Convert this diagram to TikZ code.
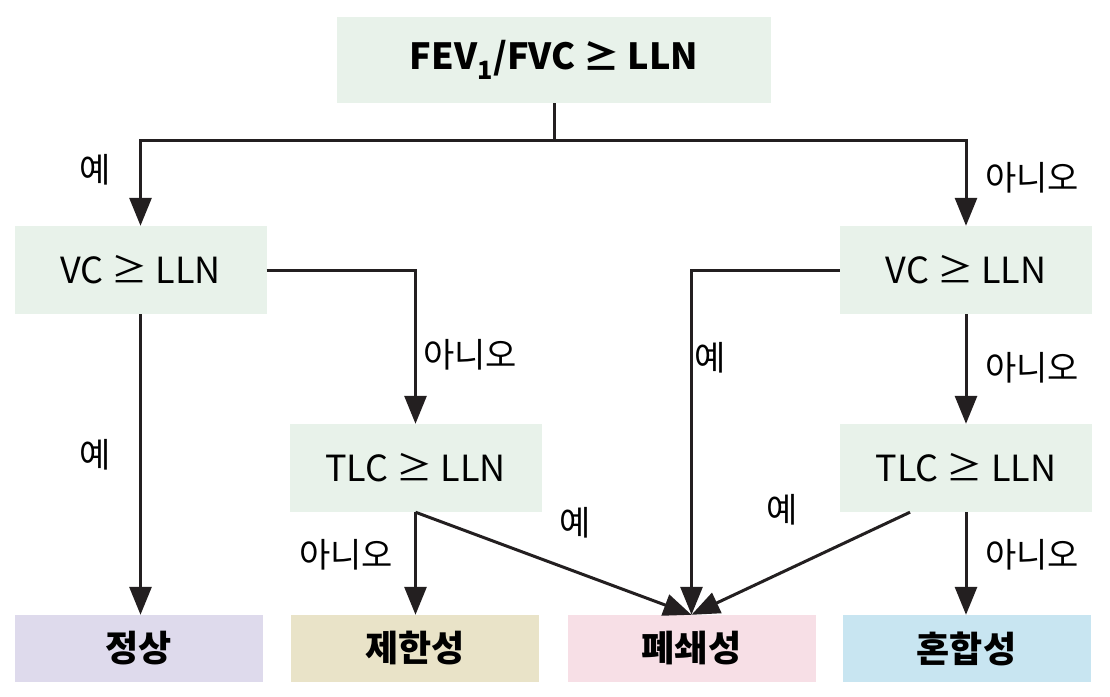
\documentclass[tikz,border=0pt]{standalone}
\usepackage{fontspec}
\setmainfont{Noto Sans CJK KR}
\usetikzlibrary{arrows.meta}
\definecolor{gbox}{HTML}{E8F2EA}
\definecolor{c1}{HTML}{DEDAEC}
\definecolor{c2}{HTML}{E9E3C8}
\definecolor{c3}{HTML}{F7DFE6}
\definecolor{c4}{HTML}{C8E5F1}
\definecolor{ln}{HTML}{231F20}
\begin{document}
\begin{tikzpicture}[x=1pt,y=-1pt,
  box/.style={fill=gbox,draw=none,minimum width=252pt,minimum height=88pt,font=\fontsize{36}{40}\selectfont,inner sep=0pt},
  res/.style={draw=none,minimum width=248pt,minimum height=67pt,font=\fontsize{36}{40}\selectfont\bfseries,inner sep=0pt},
  lab/.style={font=\fontsize{34}{38}\selectfont,inner sep=0pt},
  ar/.style={draw=ln,line width=3pt,-{Triangle[length=28pt,width=22pt]}},
  ln/.style={draw=ln,line width=3pt}]
\useasboundingbox (0,0) rectangle (1110,696);
\node[box,minimum width=434pt,minimum height=86pt,font=\fontsize{36}{40}\selectfont\bfseries] (top) at (554,60) {FEV\textsubscript{1}/FVC ≥ LLN};
\node[box] (vcl) at (140.5,270) {VC ≥ LLN};
\node[box] (vcr) at (966,270) {VC ≥ LLN};
\node[box] (tlcl) at (415.5,468) {TLC ≥ LLN};
\node[box] (tlcr) at (966,468) {TLC ≥ LLN};
\node[res,fill=c1] (n) at (138.5,648.5) {정상};
\node[res,fill=c2] (r) at (415,648.5) {제한성};
\node[res,fill=c3] (o) at (691.5,648.5) {폐쇄성};
\node[res,fill=c4] (m) at (966.5,648.5) {혼합성};
\coordinate (s) at (554,140);
\draw[ln] (top.south) -- (s);
\draw[ar] (s) -| (vcl.north);
\draw[ar] (s) -| (vcr.north);
\draw[ar] (vcl.east) -| (tlcl.north);
\draw[ar] (vcl.south) -- (vcl.south |- n.north);
\draw[ar] (vcr.west) -| (o.north);
\draw[ar] (vcr.south) -- (tlcr.north);
\draw[ar] (tlcl.south) -- (tlcl.south |- r.north);
\draw[ar] (tlcl.south) -- (o.north);
\draw[ar] (tlcr.south -| 910,0) -- (o.north);
\draw[ar] (tlcr.south) -- (tlcr.south |- m.north);
\node[lab] at (95,170) {예};
\node[lab] at (1032,178) {아니오};
\node[lab] at (470,355) {아니오};
\node[lab] at (95,455) {예};
\node[lab] at (710,358) {예};
\node[lab] at (1032,368) {아니오};
\node[lab] at (346,555) {아니오};
\node[lab] at (575,523) {예};
\node[lab] at (782,510) {예};
\node[lab] at (1032,555) {아니오};
\end{tikzpicture}
\end{document}
